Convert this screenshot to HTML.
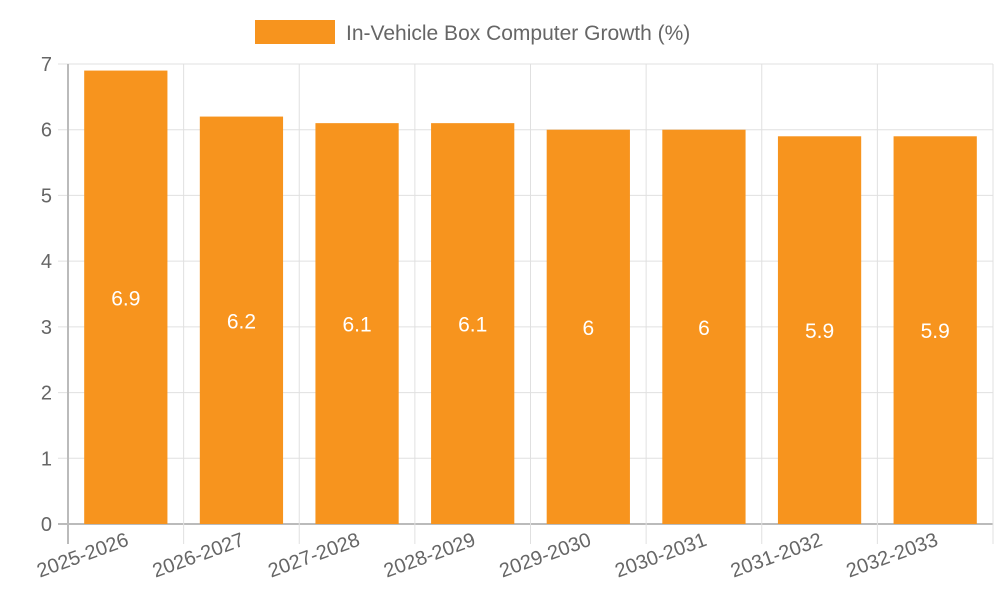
<!DOCTYPE html>
<html><head><meta charset="utf-8"><style>body{margin:0;background:#fff}svg{display:block;font-family:"Liberation Sans",sans-serif}</style></head>
<body>
<svg id="c" width="1000" height="600">
<g>
<rect x="255" y="20" width="80" height="24" fill="#f7941e"></rect>
<text x="346" y="40" font-size="21" fill="#666">In-Vehicle Box Computer Growth (%)</text>
</g>
</svg>
<script>
const categories=["2025-2026","2026-2027","2027-2028","2028-2029","2029-2030","2030-2031","2031-2032","2032-2033"];
const values=[6.9,6.2,6.1,6.1,6,6,5.9,5.9];
const yTicks=[0,1,2,3,4,5,6,7];
const svg=document.getElementById('c');const NS='http://www.w3.org/2000/svg';
const L=68,R=993,T=64,B=524,yMax=7;
const y=v=>B-(v/yMax)*(B-T);
const bw=(R-L)/categories.length;
const x=i=>L+bw*i;
function mk(t,a,p){const e=document.createElementNS(NS,t);for(const k in a)e.setAttribute(k,a[k]);(p||svg).appendChild(e);return e;}
yTicks.forEach(t=>{
 const g=mk('line',{x1:L-10,x2:R,y1:y(t),y2:y(t),stroke:t===0?'#bbb':'#e0e0e0','stroke-width':t===0?2:1});
 
 
 const tx=mk('text',{x:L-16,y:y(t)+7,'text-anchor':'end','font-size':20,fill:'#666'});tx.textContent=t;
 
 
});
for(let i=0;i<=categories.length;i++){
 const g=mk('line',{x1:x(i),x2:x(i),y1:T,y2:B+20,stroke:i===0?'#bbb':'#e0e0e0','stroke-width':i===0?2:1});
 
 
}
categories.forEach((c,i)=>{
 const cx=x(i)+bw/2,w=bw*0.72;
 const r=mk('rect',{x:cx-w/2,y:y(values[i]),width:w,height:B-y(values[i]),fill:'#f7941e'});
 
 
 const v=mk('text',{x:cx,y:(y(values[i])+B)/2+8,'text-anchor':'middle','font-size':21,fill:'#fff'});v.textContent=values[i];
 
 
 const lx=cx+4,ly=545;
 const t=mk('text',{x:lx,y:ly,'text-anchor':'end','font-size':20,fill:'#666',transform:`rotate(-20 ${lx} ${ly})`});t.textContent=c;
 
 
});
</script>
</body></html>
